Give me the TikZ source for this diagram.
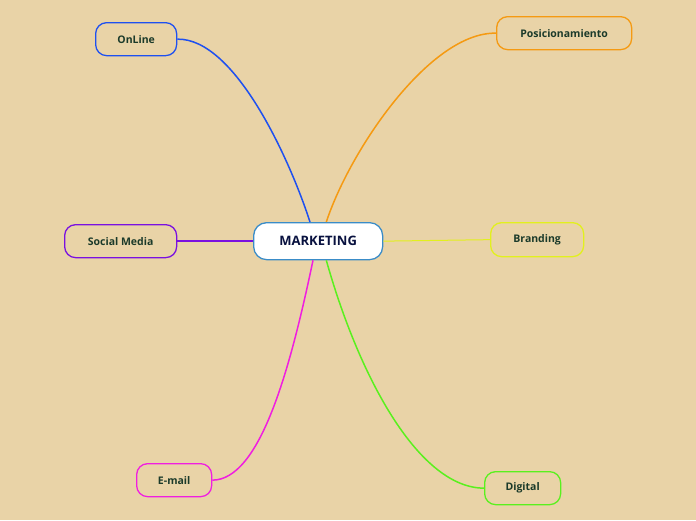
\documentclass[tikz,border=0pt]{standalone}
\usepackage{fontspec}
\setmainfont{Open Sans}
\definecolor{bg}{HTML}{E9D3A7}
\definecolor{txt}{HTML}{1B3A2A}
\definecolor{cblue}{HTML}{1E50F0}
\definecolor{corange}{HTML}{F59A12}
\definecolor{cpurple}{HTML}{7A10E0}
\definecolor{cyellow}{HTML}{E2F01E}
\definecolor{cmag}{HTML}{F01EE0}
\definecolor{cgreen}{HTML}{5AF01E}
\definecolor{cmain}{HTML}{3A8CC8}
\begin{document}
\begin{tikzpicture}[x=1pt,y=-1pt,
  topic/.style={draw=#1,line width=1.3pt,rounded corners=11pt,fill=bg,text=txt,font=\fontsize{10.5}{12}\selectfont\bfseries,inner sep=0pt,anchor=north west},
  link/.style={draw=#1,line width=1.5pt}]
\fill[bg] (0,0) rectangle (696,520);
\useasboundingbox (0,0) rectangle (696,520);
\node[topic=cmain,fill=white,minimum width=129pt,minimum height=37pt,rounded corners=13pt,text=txt!60!blue!50!black,font=\fontsize{13}{15}\selectfont\bfseries] (m) at (253,222) {MARKETING};
\node[topic=cblue,minimum width=81pt,minimum height=33pt] (on) at (95,22) {OnLine};
\node[topic=corange,minimum width=135pt,minimum height=33pt] (po) at (496,16) {Posicionamiento};
\node[topic=cpurple,minimum width=112pt,minimum height=33pt] (sm) at (64,224) {Social Media};
\node[topic=cyellow,minimum width=93pt,minimum height=34pt] (br) at (490,222) {Branding};
\node[topic=cmag,minimum width=75pt,minimum height=33pt] (em) at (136,463) {E-mail};
\node[topic=cgreen,minimum width=76pt,minimum height=33pt] (di) at (484,471) {Digital};
\draw[link=cblue] (on.east) .. controls (235,38) and (290,160) .. ([xshift=57pt]m.north west);
\draw[link=corange] (po.west) .. controls (430,32) and (350,150) .. ([xshift=-57pt]m.north east);
\draw[link=cpurple] (sm.east) -- (m.west);
\draw[link=cyellow,line width=1pt] (m.east) -- (br.west);
\draw[link=cmag] (em.east) .. controls (260,480) and (290,370) .. ([xshift=60pt]m.south west);
\draw[link=cgreen] (di.west) .. controls (420,488) and (360,380) .. ([xshift=-57pt]m.south east);
\end{tikzpicture}
\end{document}
